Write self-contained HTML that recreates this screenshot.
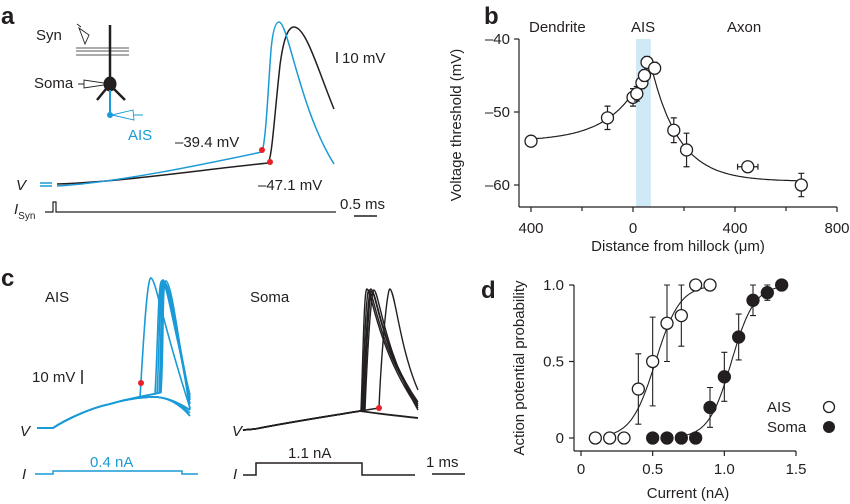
<!DOCTYPE html>
<html><head><meta charset="utf-8">
<style>
body{margin:0;background:#fff;}
svg{display:block;font-family:"Liberation Sans",Arial,sans-serif;}
text{fill:#231f20;}
</style></head>
<body>
<svg id="fig" width="850" height="504" viewBox="0 0 850 504">
<!-- Panel a -->
<g>
<text x="1" y="24" font-size="24" font-weight="bold">a</text>
<text x="36" y="40" font-size="15">Syn</text>
<text x="34" y="88" font-size="15">Soma</text>
<text x="128" y="140" font-size="15" fill="#1a9ad6" style="fill:#1a9ad6">AIS</text>
<g stroke="#231f20" fill="none">
 <line x1="110" y1="25" x2="110" y2="82" stroke-width="2.5"/>
 <line x1="76" y1="48" x2="129" y2="48" stroke-width="0.8"/>
 <line x1="76" y1="51" x2="129" y2="51" stroke-width="0.8"/>
 <line x1="76" y1="55" x2="129" y2="55" stroke-width="0.8"/>
 <path d="M79,28 L85,44 L89,35 Z M81,27 L77,24" stroke-width="0.9"/>
 <ellipse cx="110" cy="84" rx="6" ry="7" fill="#231f20"/>
 <path d="M106,89 L97,100 M114,89 L125,100" stroke-width="2.5"/>
 <path d="M78,84 L84,84 M84,80 L84,88 L104,85 L104,83 Z" stroke-width="0.9"/>
 <line x1="110" y1="90" x2="110" y2="115" stroke="#1a9ad6" stroke-width="2"/>
 <circle cx="110" cy="115" r="3" fill="#1a9ad6" stroke="none"/>
 <path d="M112,115 L133,110 L134,120 Z M134,115 L143,115" stroke="#1a9ad6" stroke-width="0.9"/>
</g>
<line x1="40" y1="183" x2="52" y2="183" stroke="#1a9ad6" stroke-width="1.5"/>
<line x1="40" y1="186" x2="52" y2="186" stroke="#1a9ad6" stroke-width="1.5"/>
<path d="M57,184 C120,182 200,170 268,163 C272,158 274,120 280,65 C284,35 289,27 294,27 C306,27 318,70 334,109" fill="none" stroke="#231f20" stroke-width="1.5"/>
<path d="M57,186 C120,182 200,165 262,152 C266,140 268,90 271,50 C273,28 276,22 279,22 C288,22 300,110 334,164" fill="none" stroke="#1a9ad6" stroke-width="1.5"/>
<circle cx="262" cy="150" r="3" fill="#e8202a"/>
<circle cx="270" cy="162" r="3" fill="#e8202a"/>
<text x="175" y="147" font-size="15">–39.4 mV</text>
<text x="258" y="190" font-size="15">–47.1 mV</text>
<line x1="337" y1="52" x2="337" y2="63" stroke="#231f20" stroke-width="1.5"/>
<text x="342" y="63" font-size="15">10 mV</text>
<line x1="354" y1="216" x2="377" y2="216" stroke="#231f20" stroke-width="1.5"/>
<text x="340" y="209" font-size="15">0.5 ms</text>
<text x="16" y="190" font-size="15" font-style="italic">V</text>
<text x="14" y="214" font-size="15" font-style="italic">I<tspan font-size="10" font-style="normal" dy="5">Syn</tspan></text>
<path d="M45,212 L53,212 L53,202 L56,202 L56,212 L336,212" fill="none" stroke="#231f20" stroke-width="1.2"/>
</g>

<!-- Panel c -->
<g>
<text x="1" y="286" font-size="24" font-weight="bold">c</text>
<text x="45" y="302" font-size="15">AIS</text>
<text x="250" y="302" font-size="15">Soma</text>
<text x="32" y="382" font-size="15">10 mV</text>
<line x1="82" y1="370" x2="82" y2="384" stroke="#231f20" stroke-width="1.5"/>
<g id="aisTraces"></g>
<g id="somaTraces"></g>
<circle cx="141" cy="383" r="3" fill="#e8202a"/>
<circle cx="379" cy="408" r="3" fill="#e8202a"/>
<text x="20" y="436" font-size="15" font-style="italic">V</text>
<text x="232" y="436" font-size="15" font-style="italic">V</text>
<text x="22" y="479" font-size="15" font-style="italic">I</text>
<text x="233" y="479" font-size="15" font-style="italic">I</text>
<path d="M35,474 L53,474 L53,471 L182,471 L182,474 L198,474" fill="none" stroke="#1a9ad6" stroke-width="1.5"/>
<text x="90" y="467" font-size="15" style="fill:#1a9ad6">0.4 nA</text>
<path d="M243,475 L256,475 L256,463 L362,463 L362,475 L415,475" fill="none" stroke="#231f20" stroke-width="1.5"/>
<text x="288" y="458" font-size="15">1.1 nA</text>
<line x1="432" y1="474" x2="465" y2="474" stroke="#231f20" stroke-width="1.5"/>
<text x="426" y="467" font-size="15">1 ms</text>
</g>

<!-- Panel b -->
<g id="panelB">
<text x="484" y="24" font-size="24" font-weight="bold">b</text>
<text x="529" y="32" font-size="15">Dendrite</text>
<text x="631" y="32" font-size="15">AIS</text>
<text x="727" y="32" font-size="15">Axon</text>
<text transform="translate(461,125) rotate(-90)" text-anchor="middle" font-size="15">Voltage threshold (mV)</text>
<text x="678" y="251" text-anchor="middle" font-size="15">Distance from hillock (μm)</text>
</g>

<!-- Panel d -->
<g id="panelD">
<text x="481" y="298" font-size="24" font-weight="bold">d</text>
<text transform="translate(524,368) rotate(-90)" text-anchor="middle" font-size="15">Action potential probability</text>
<text x="688" y="498" text-anchor="middle" font-size="15">Current (nA)</text>
<text x="767" y="412" font-size="15">AIS</text>
<circle cx="829" cy="407" r="5.5" fill="#fff" stroke="#231f20" stroke-width="1.3"/>
<text x="767" y="432" font-size="15">Soma</text>
<circle cx="829" cy="427" r="6" fill="#231f20"/>
</g>
</svg>
<script>
// ---- Panel b data ----
const bDistances = [-400, -100, 0, 15, 35, 45, 55, 85, 160, 210, 450, 660];
const bThresholds = [-54, -50.8, -48, -47.5, -46, -45, -43.2, -44, -52.5, -55.2, -57.5, -60];
const bErrors = [0.6, 1.6, 1.2, 1.0, 0.8, 0.8, 0.8, 0.8, 1.7, 2.3, 0.4, 1.6];
const bXErrors = [20, 0, 0, 0, 0, 0, 0, 0, 0, 0, 40, 0];
const bXTicks = [-400, 0, 400, 800];
const bXTickLabels = ["400", "0", "400", "800"];
const bYTicks = [-40, -50, -60];
const bYTickLabels = ["–40", "–50", "–60"];
// ---- Panel d data ----
const dCurrentsAIS = [0.1, 0.2, 0.3, 0.4, 0.5, 0.6, 0.7, 0.8, 0.9];
const dProbAIS = [0, 0, 0, 0.32, 0.5, 0.75, 0.8, 1, 1];
const dErrAIS = [0, 0, 0, 0.23, 0.29, 0.25, 0.2, 0, 0];
const dCurrentsSoma = [0.5, 0.6, 0.7, 0.8, 0.9, 1.0, 1.1, 1.2, 1.3, 1.4];
const dProbSoma = [0, 0, 0, 0, 0.2, 0.4, 0.66, 0.9, 0.95, 1];
const dErrSoma = [0, 0, 0, 0, 0.13, 0.16, 0.15, 0.1, 0.05, 0];
const dXTicks = [0, 0.5, 1.0, 1.5];
const dXTickLabels = ["0", "0.5", "1.0", "1.5"];
const dYTicks = [0, 0.5, 1.0];
const dYTickLabels = ["0", "0.5", "1.0"];
// ---- Panel c traces ----
const aisOnsetX = [141, 156, 158, 160, 161, 162];
const aisPeakX = [151, 162, 163, 164, 165, 166];
const aisPeakY = [278, 281, 280, 282, 283, 281];
const aisEndY = [408, 395, 400, 404, 398, 410];
const aisFailEndY = [410, 413, 416];
const somaOnsetX = [361, 362, 363, 364, 365, 379];
const somaPeakX = [367, 369, 371, 372, 374, 390];
const somaPeakY = [289, 290, 289, 291, 290, 289];
const somaEndY = [408, 404, 406, 402, 410, 390];

const NS = "http://www.w3.org/2000/svg";
function mk(tag, attrs, parent) {
  const e = document.createElementNS(NS, tag);
  for (const k in attrs) e.setAttribute(k, attrs[k]);
  parent.appendChild(e);
  return e;
}
const INK = "#231f20";

// Panel b
const pb = document.getElementById("panelB");
const bx = v => 633 + (v) * (735 - 633) / 400;
const by = v => 39 + (-40 - v) * (185 - 39) / 20;
const band = mk("rect", {x: bx(12), y: 39, width: bx(70) - bx(12), height: 168, fill: "#cfe9f7"}, pb);


const bYAxis = mk("line", {x1: 519, y1: 39, x2: 519, y2: 207, stroke: INK, "stroke-width": 1.2}, pb);


const bXAxis = mk("line", {x1: 519, y1: 207, x2: bx(800), y2: 207, stroke: INK, "stroke-width": 1.2}, pb);


bYTicks.forEach((t, i) => {
  mk("line", {x1: 514, y1: by(t), x2: 519, y2: by(t), stroke: INK, "stroke-width": 1.2}, pb);
  const tx = mk("text", {x: 510, y: by(t) + 5, "text-anchor": "end", "font-size": 15}, pb);
  tx.textContent = bYTickLabels[i];
  
  
});
for (let v = -400; v <= 800; v += 200) {
  mk("line", {x1: bx(v), y1: 207, x2: bx(v), y2: v % 400 === 0 ? 212 : 211, stroke: INK, "stroke-width": 1.2}, pb);
}
bXTicks.forEach((t, i) => {
  const tx = mk("text", {x: bx(t), y: 233, "text-anchor": "middle", "font-size": 15}, pb);
  tx.textContent = bXTickLabels[i];
  
  
});
let fd = "";
for (let x = -400; x <= 660; x += 5) {
  const y = x <= 68 ? -54 + 10.5 * Math.exp((x - 60) / 130) : -59.5 + 16 * Math.exp(-(x - 70) / 110);
  fd += (x === -400 ? "M" : "L") + bx(x).toFixed(1) + "," + by(y).toFixed(1);
}
const fitB = mk("path", {d: fd, fill: "none", stroke: INK, "stroke-width": 1.2}, pb);


bDistances.forEach((d, i) => {
  const cx = bx(d), cy = by(bThresholds[i]);
  if (bErrors[i] > 0) {
    const e = bErrors[i];
    mk("path", {d: `M${cx},${by(bThresholds[i]+e)}L${cx},${by(bThresholds[i]-e)}M${cx-3},${by(bThresholds[i]+e)}h6M${cx-3},${by(bThresholds[i]-e)}h6`, stroke: INK, fill: "none", "stroke-width": 1.2}, pb);
  }
  if (bXErrors[i] > 0) {
    const e = bXErrors[i];
    mk("path", {d: `M${bx(d-e)},${cy}L${bx(d+e)},${cy}M${bx(d-e)},${cy-3}v6M${bx(d+e)},${cy-3}v6`, stroke: INK, fill: "none", "stroke-width": 1.2}, pb);
  }
  const c = mk("circle", {cx: cx, cy: cy, r: 6, fill: "#fff", stroke: INK, "stroke-width": 1.3}, pb);
  
  
});

// Panel d
const pd = document.getElementById("panelD");
const dx = v => 581 + v * (796 - 581) / 1.5;
const dy = v => 438 - v * (438 - 285);
const dYAxis = mk("line", {x1: 574, y1: 285, x2: 574, y2: 451, stroke: INK, "stroke-width": 1.2}, pd);


const dXAxis = mk("line", {x1: 574, y1: 451, x2: dx(1.5), y2: 451, stroke: INK, "stroke-width": 1.2}, pd);


dYTicks.forEach((t, i) => {
  mk("line", {x1: 569, y1: dy(t), x2: 574, y2: dy(t), stroke: INK, "stroke-width": 1.2}, pd);
  const tx = mk("text", {x: 564, y: dy(t) + 5, "text-anchor": "end", "font-size": 15}, pd);
  tx.textContent = dYTickLabels[i];
  
  
});
dXTicks.forEach((t, i) => {
  mk("line", {x1: dx(t), y1: 451, x2: dx(t), y2: 456, stroke: INK, "stroke-width": 1.2}, pd);
  const tx = mk("text", {x: dx(t), y: 474, "text-anchor": "middle", "font-size": 15}, pd);
  tx.textContent = dXTickLabels[i];
  
  
});
function logistic(x0, k, a, b) {
  let s = "";
  for (let x = a; x <= b + 1e-9; x += 0.01) {
    const y = 1 / (1 + Math.exp(-(x - x0) / k));
    s += (s ? "L" : "M") + dx(x).toFixed(1) + "," + dy(y).toFixed(1);
  }
  return s;
}
const fitA = mk("path", {d: logistic(0.52, 0.085, 0.2, 0.9), fill: "none", stroke: INK, "stroke-width": 1.1}, pd);


const fitS = mk("path", {d: logistic(1.05, 0.08, 0.7, 1.4), fill: "none", stroke: INK, "stroke-width": 1.1}, pd);


function dPoints(xs, ys, es, filled, name) {
  xs.forEach((x, i) => {
    const cx = dx(x), cy = dy(ys[i]);
    if (es[i] > 0) {
      const hi = dy(Math.min(ys[i] + es[i], 1.0)), lo = dy(ys[i] - es[i]);
      mk("path", {d: `M${cx},${hi}L${cx},${lo}M${cx-3},${hi}h6M${cx-3},${lo}h6`, stroke: INK, fill: "none", "stroke-width": 1.1}, pd);
    }
    const c = mk("circle", {cx: cx, cy: cy, r: 6, fill: filled ? INK : "#fff", stroke: INK, "stroke-width": 1.3}, pd);
    
    
  });
}
dPoints(dCurrentsAIS, dProbAIS, dErrAIS, false, 'ais-probability-point');
dPoints(dCurrentsSoma, dProbSoma, dErrSoma, true, 'soma-probability-point');

// Panel c traces
const gA = document.getElementById("aisTraces");
const gS = document.getElementById("somaTraces");
const aisBase = "M37,428 L53,428 C65,420 90,408 110,404 C120,401 132,398 ";
aisOnsetX.forEach((ox, i) => {
  const oy = 398 - (ox - 140) * 0.25;
  const px = aisPeakX[i], py = aisPeakY[i];
  const d = aisBase + `${ox - 1},${oy} C${ox + 2},${oy - 50} ${px - 4},${py - 2} ${px},${py} C${px + 5},${py + 2} ${px + 10},${py + 40} 190,${aisEndY[i]}`;
  const p = mk("path", {d: d, fill: "none", stroke: "#1a9ad6", "stroke-width": 1.6}, gA);
  
  
});
aisFailEndY.forEach(ey => {
  const p = mk("path", {d: aisBase + `150,397 C165,396 178,402 190,${ey}`, fill: "none", stroke: "#1a9ad6", "stroke-width": 1.8}, gA);
  
  
});
const somaBase = "M243,430 L255,429 C290,422 330,416 360,411 ";
somaOnsetX.forEach((ox, i) => {
  const oy = ox > 370 ? 408 : 410;
  const px = somaPeakX[i], py = somaPeakY[i];
  const d = somaBase + `L${ox},${oy} C${ox + 2},${oy - 50} ${px - 3},${py - 2} ${px},${py} C${px + 5},${py + 2} ${px + 10},${py + 60} 418,${somaEndY[i]}`;
  const p = mk("path", {d: d, fill: "none", stroke: INK, "stroke-width": 1.4}, gS);
  
  
});
const sf = mk("path", {d: somaBase + "C380,414 400,416 418,418", fill: "none", stroke: INK, "stroke-width": 1.8}, gS);


</script>
</body></html>
